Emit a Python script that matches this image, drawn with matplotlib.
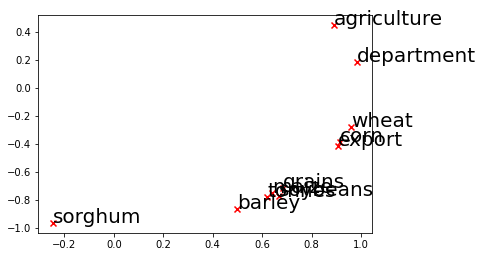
import matplotlib
matplotlib.use("Agg")
import matplotlib.pyplot as plt

# word -> 2d coordinates
words = ['agriculture', 'department', 'wheat', 'corn', 'export',
         'grains', 'soybeans', 'maize', 'tonnes', 'barley', 'sorghum']
xs = [0.889, 0.983, 0.960, 0.915, 0.905,
      0.683, 0.667, 0.640, 0.620, 0.497, -0.245]
ys = [0.454, 0.191, -0.275, -0.385, -0.415,
      -0.710, -0.767, -0.750, -0.775, -0.860, -0.963]

fig = plt.figure(figsize=(496 / 72, 270 / 72), dpi=72)
ax = fig.add_axes([38 / 496, 1 - 233 / 270, (372 - 38) / 496, (233 - 15) / 270])

ax.scatter(xs, ys, marker='x', c='r')
for w, x, y in zip(words, xs, ys):
    ax.text(x, y, w, fontsize=20)

fig.savefig('out.png', dpi=72)
